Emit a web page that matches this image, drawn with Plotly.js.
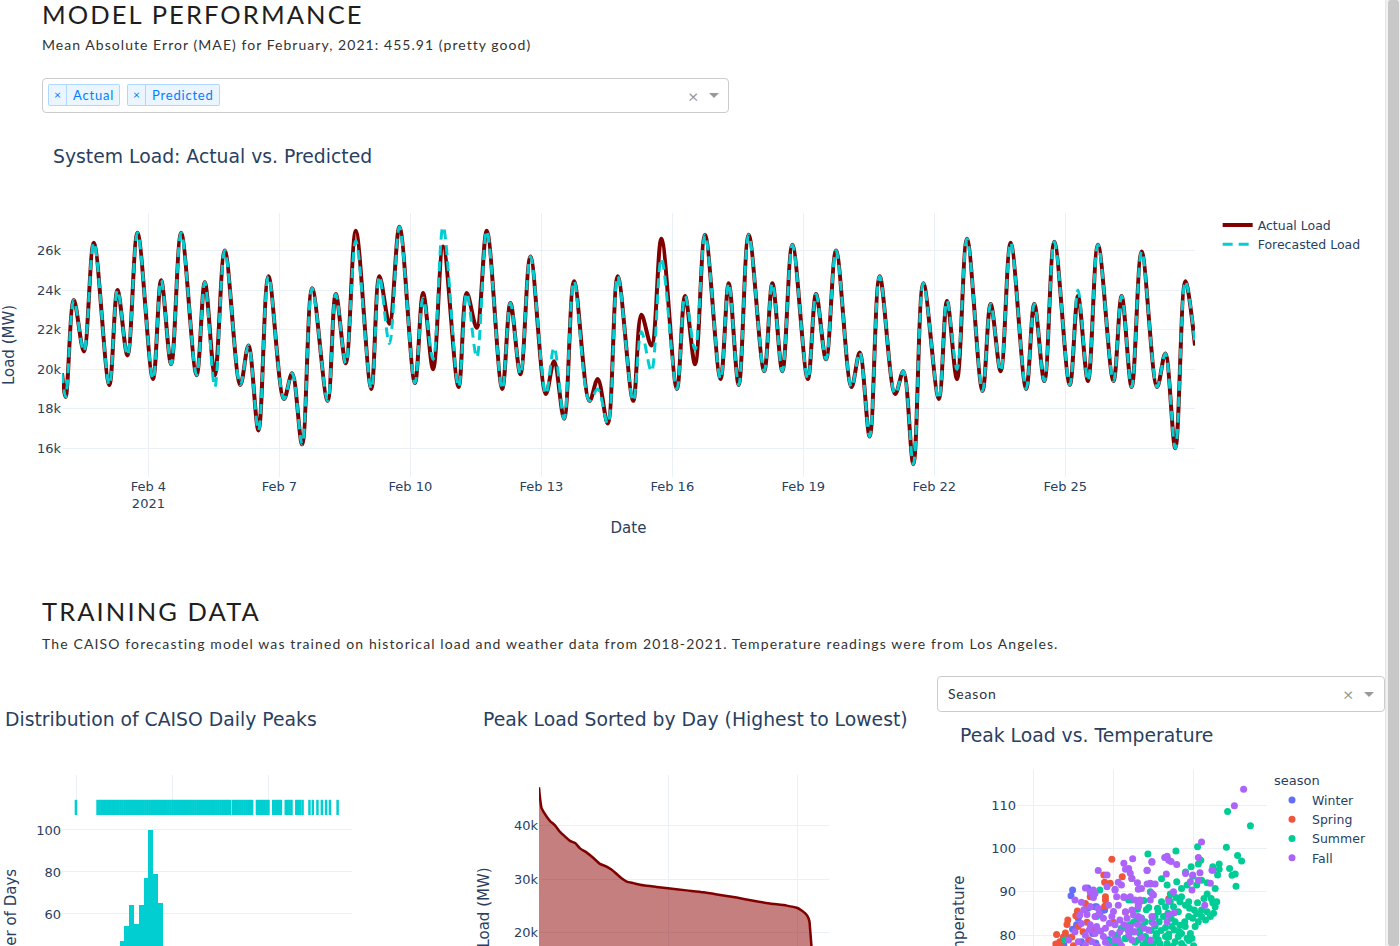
<!DOCTYPE html>
<html><head><meta charset="utf-8">
<script src="https://cdn.plot.ly/plotly-3.0.1.min.js"></script>
<style>
html,body{margin:0;padding:0;width:1400px;height:946px;overflow:hidden;background:#fff;font-family:Lato,"Noto Sans",sans-serif;}
.abs{position:absolute;}
.h1{font-size:25.5px;line-height:26px;letter-spacing:2.1px;color:#1e1e1e;white-space:nowrap;}
.p{font-size:14px;line-height:14px;letter-spacing:1.05px;color:#333;white-space:nowrap;}
.dd{border:1px solid #ccc;border-radius:4px;box-sizing:border-box;background:#fff;}
.tag{position:absolute;top:5px;height:22px;box-sizing:border-box;border:1px solid rgba(0,126,255,0.26);background:rgba(0,126,255,0.08);border-radius:2px;color:#007eff;font-size:13px;line-height:20px;letter-spacing:0.8px;display:flex;}
.tag .x{width:17px;text-align:center;border-right:1px solid rgba(0,126,255,0.26);font-size:12px;letter-spacing:0;}
.tag .l{padding:0 5px 0 6px;}
.clr{position:absolute;color:#999;font-size:18px;line-height:18px;}
.car{position:absolute;width:0;height:0;border-left:5px solid transparent;border-right:5px solid transparent;border-top:5px solid #999;}
</style></head><body>

<div class="abs h1" style="left:42px;top:1px;">MODEL PERFORMANCE</div>
<div class="abs p" style="left:42px;top:38px;">Mean Absolute Error (MAE) for February, 2021: 455.91 (pretty good)</div>

<div class="abs dd" style="left:42px;top:78px;width:687px;height:35px;">
  <div class="tag" style="left:5px;"><span class="x">×</span><span class="l">Actual</span></div>
  <div class="tag" style="left:84px;"><span class="x">×</span><span class="l">Predicted</span></div>
  <div class="clr" style="left:645px;top:8px;">×</div>
  <div class="car" style="left:666px;top:14px;"></div>
</div>

<div class="abs" id="mainChart" style="left:0;top:128px;width:1385px;height:420px;"></div>

<div class="abs h1" style="left:42px;top:598px;">TRAINING DATA</div>
<div class="abs p" style="left:42px;top:637px;letter-spacing:1.12px;">The CAISO forecasting model was trained on historical load and weather data from 2018-2021. Temperature readings were from Los Angeles.</div>

<div class="abs" id="histChart" style="left:0;top:690px;width:470px;height:410px;"></div>
<div class="abs" id="sortChart" style="left:470px;top:690px;width:470px;height:410px;"></div>
<div class="abs" id="scatChart" style="left:930px;top:712px;width:455px;height:420px;"></div>

<div class="abs dd" style="left:937px;top:676px;width:448px;height:36px;">
  <div class="abs" style="left:10px;top:9px;font-size:14px;line-height:16px;letter-spacing:0.8px;color:#333;">Season</div>
  <div class="clr" style="left:405px;top:8px;">×</div>
  <div class="car" style="left:426px;top:15px;"></div>
</div>

<div class="abs" style="left:1385px;top:0;width:15px;height:946px;background:#f1f1f1;border-left:1px solid #e6e6e6;box-sizing:border-box;"></div>
<div class="abs" style="left:1388px;top:0;width:11px;height:946px;background:#c8c8c8;border-radius:3px;"></div>

<script>
// ---------- System load (Feb 2021), daily features: early-morning trough, morning peak, midday dip, evening peak
const loadDays = ['2021-02-02','2021-02-03','2021-02-04','2021-02-05','2021-02-06','2021-02-07','2021-02-08','2021-02-09','2021-02-10','2021-02-11','2021-02-12','2021-02-13','2021-02-14','2021-02-15','2021-02-16','2021-02-17','2021-02-18','2021-02-19','2021-02-20','2021-02-21','2021-02-22','2021-02-23','2021-02-24','2021-02-25','2021-02-26','2021-02-27'];
const featureTimes = ['02:30','07:00','12:30','18:00'];
const seriesStartTime = '2021-02-02 00:30';
const seriesEndTime = '2021-02-27 23:20';

const actualStart = 19800, actualEnd = 21200;
const actualTrough  = [18600,19200,19500,19700,19200,18500,18400,19000,19300,19100,19000,18750,18400,18400,19000,19500,19900,19500,19100,18750,18500,18900,19000,19200,19400,19100];
const actualMorning = [23500,24000,24500,24400,21200,19800,23800,24700,23850,23850,23350,20400,19500,22750,23700,24350,24350,23800,20850,19900,23450,23300,23300,23700,23700,20800];
const actualMidday  = [20900,20700,20250,19700,16900,16200,20300,22300,20000,22100,19750,17500,17250,21200,20250,19200,19900,20500,16600,15200,19500,19900,19400,19400,19100,16000];
const actualEvening = [26400,26900,26900,26000,24700,24100,27000,27200,26200,27000,25700,24450,24700,26600,26800,26800,26300,26000,24700,24350,26600,26400,26450,26300,25950,24450];

const predStart = 19800, predEnd = 21300;
const predTrough  = [18600,19200,19500,19700,19200,18500,18400,19000,19300,19100,19000,18750,18400,18400,19000,19500,19900,19500,19100,18750,18500,18900,19000,19200,19400,19100];
const predMorning = [23500,24000,24500,24400,21200,19800,23800,24700,23600,23850,23350,21100,19000,21900,23700,24350,24350,23800,20850,19900,23450,23300,23300,24000,23700,20800];
const predMidday  = [20900,20700,20250,19100,16900,16200,20300,21300,20500,20600,19750,17500,17250,19900,21000,19200,19900,20500,16600,15200,20000,19900,19400,19400,19100,16000];
const predEvening = [26400,26900,26900,26000,24700,24100,26500,27200,27200,27000,25700,24450,24700,25600,26800,26800,26300,26000,24700,24350,26600,26400,26450,26300,25950,24450];

// ---------- Daily peaks (training data)
const histBinStart = [19500,20000,20500,21000,21500,22000,22500,23000,23500,24000,24500,25000,25500,26000,26500,27000,27500,28000,28500,29000,29500,30000,30500,31000,31500,32000,32500,33000,33500,34000,34500,35000,35500,36000,36500,37000,37500,38000,38500,39000,39500,40000,40500,41000,41500,42000,42500,43000,43500,44000,44500,45000,45500,46000,46500,47000];
const histCounts   = [1,0,0,0,1,3,5,7,11,22,47,54,64,55,64,77,100,79,65,40,28,20,17,15,14,13,13,12,12,12,12,13,12,12,12,12,12,11,11,11,11,7,6,6,5,5,4,4,3,2,2,1,2,1,1,1];
const histBinWidth = 500;

const rugPeaks = [19950,
 22200,22400,22600,22800,23000,23200,23400,23600,23800,24000,24200,24400,24600,24800,25000,25200,25400,25600,25800,26000,
 26200,26400,26600,26800,27000,27200,27400,27600,27800,28000,28200,28400,28600,28800,29000,29200,29400,29600,29800,30000,
 30200,30400,30600,30800,31000,31200,31400,31600,31800,32000,32200,32400,32600,32800,33000,33200,33400,33600,33800,34000,
 34200,34400,34600,34800,35000,35200,35400,35600,35800,36000,36300,36500,36700,36900,37100,37300,37500,37700,37900,38100,
 38300,38800,39000,39200,39400,39600,39800,40000,40500,40700,40900,41100,41300,41800,42000,42200,42400,42900,43100,43300,43550,
 44270,44620,45100,45560,46000,46400,47200];

const sortedRank = [0,4,10,19,30,43,62,81,101,120,140,159,185,211,236,262,282,301,320,340,366,404,456,508,572,637,702,766,831,895,960,999,1018,1031,1041,1048,1050,1052,1060];
const sortedPeak = [47200,45200,43300,42500,41700,40900,40100,38900,38000,37200,36800,35800,35000,34000,32900,32400,31800,31000,30200,29600,29300,28900,28600,28300,27950,27600,27100,26600,26000,25500,25100,24700,24200,23700,23100,22200,21200,20000,15000];

// ---------- Peak load vs temperature, by season  [load MW], [temp F]
const winterLoad = [24900,24700,26800,28900,28300,25600,25400,24900,27400,27700,26800,27100,27900,28800,25400,24200,26000,23800,26200,27800,29400];
const winterTemp = [90.4,89.1,90.9,85.8,84.8,83.9,82.4,81.4,80.4,86.6,86.2,86.6,86.6,85.8,82.1,79.5,78.5,77.8,77.3,78.2,79.0];
const springLoad = [29800,31100,28900,29600,32300,29000,29000,27200,27100,26500,25500,25300,24300,25600,26700,26200,27600,30000,31500,23750,23300,24200,28900,36900,28800,22800,24000,26900,25000,23500,24800,22900];
const springTemp = [97.5,93.5,92.2,92.0,93.1,88.9,88.1,89.6,88.9,87.3,85.6,84.5,83.5,82.0,83.0,80.8,81.2,83.0,85.3,79.6,78.5,82.5,86.7,88.4,93.9,78.0,80.5,79.0,77.6,77.2,79.6,80.2];
const summerLoad = [47100,44250,44100,40500,37800,34300,45500,46000,44500,44800,45200,45300,43200,43200,43000,42400,40900,40600,39700,39000,39900,41000,41700,42700,40400,39200,37900,36700,36000,38500,37100,37800,38300,39000,39500,40100,40500,41300,41700,42200,42400,42700,41700,41000,40600,39900,39400,38900,38300,37700,37200,36800,36250,35700,35200,34700,35300,35950,36500,36900,37600,38500,39200,34000,33500,34400,38100,37500,35200,36000,35800,33100,28300,27900,23960,32300,31000,31800,32200,31500,32700,30500,29500,33500,33000,32500,33800,34600,33200,34000,30200,
 32900,33300,33960,34800,35400,36500,37300,38100,38960,39600,40200,41000,41500,42100,42500,42900,37700,38500,36700,39800,35000,33700,40400,39400,38500,36500,35600,37100,31000,32100,32500,31500,32700,31900,33100,30200,29400,30800,
 34500,36000,37400,38800,40000,35600,36900,38200,39400,34100,35500,37000];
const summerTemp = [105.2,108.5,100.3,100.4,99.4,98.7,98.4,97.1,95.4,93.8,94.1,91.3,96.4,95.2,93.9,95.8,97.3,96.4,95.8,94.6,93.6,92.7,92.1,90.8,91.6,91.6,92.3,91.6,93.0,90.8,89.5,88.7,87.7,86.9,86.2,85.8,87.5,88.5,89.5,88.5,87.5,86.6,85.4,84.3,83.1,83.9,84.3,83.1,82.3,83.1,83.9,85.1,84.3,83.1,82.1,81.1,79.7,81.1,81.8,80.3,81.2,80.4,79.3,79.7,82.0,86.4,85.4,86.6,84.3,87.7,78.1,78.9,90.4,84.3,78.9,88.1,81.5,82.2,80.8,79.2,78.4,80.0,78.5,84.0,86.0,83.0,88.0,90.0,81.0,78.2,77.8,
 83.5,80.4,83.1,83.1,80.4,79.7,82.0,79.7,82.0,80.4,82.0,85.8,83.5,84.3,85.1,87.7,78.5,78.1,78.1,79.3,78.1,77.7,85.0,87.7,88.9,86.6,85.4,87.7,81.6,82.4,80.8,79.3,78.5,88.1,87.0,80.0,78.5,78.1,
 77.4,77.2,77.5,77.3,77.6,79.0,79.6,80.9,78.8,85.9,86.2,84.8];
const fallLoad = [46250,45100,41000,40600,36400,36700,36900,37200,37900,34800,34200,36600,39000,39900,40800,42400,39600,40600,42100,39800,34200,34600,35200,33500,33100,37500,35000,34600,33300,36900,41400,34800,36900,37600,33100,33500,35000,36700,34400,33800,34600,
 32400,28100,29200,31900,32100,32300,30600,31000,29200,30200,26500,27100,27700,30400,31300,32100,32700,25200,26000,27100,28100,29400,30600,31500,32300,33100,25800,26700,27700,28750,29800,30800,31700,32500,26000,27100,27900,29000,30200,31300,32100,25200,26500,27700,28750,29800,30800,31900,32700,24400,25600,27300,29000,30200,32300,
 34800,34200,33000,34600,34800,33300,31300,30200,27500,27500,31300,31500,42300,
 28000,29500,31000,26500,33500,33000,28400,30600,27000,31800,29500,28200,30000,26300];
const fallTemp = [113.6,109.8,101.5,97.9,97.9,98.2,97.3,97.0,96.3,97.0,95.0,94.1,94.2,93.9,94.4,95.0,92.3,92.7,92.0,90.4,91.8,92.0,91.8,90.8,90.6,90.0,89.3,88.1,87.7,87.9,86.9,84.3,84.7,85.2,84.3,83.7,82.7,83.1,81.2,81.6,78.9,
 97.6,94.9,93.9,95.4,94.3,93.1,92.2,91.6,91.2,90.4,90.9,90.0,89.6,88.9,88.9,88.9,88.1,88.1,87.6,86.6,86.2,86.9,86.9,85.4,85.8,86.6,84.7,84.8,84.3,83.9,84.3,83.5,83.9,84.7,82.7,82.4,82.0,81.6,82.4,82.4,82.0,80.8,80.0,80.4,79.7,80.4,80.8,80.0,80.8,78.9,78.5,78.5,78.4,78.9,78.9,
 96.8,94.9,92.1,91.8,89.6,88.1,88.7,90.6,90.4,88.7,96.6,95.2,95.0,
 77.5,77.3,77.6,77.8,79.5,82.5,81.0,79.0,81.3,81.2,82.8,85.0,85.5,85.9];

// ---------- build series
function buildSeries(start, end, tr, mo, mi, ev) {
  const x = [seriesStartTime], y = [start];
  const parts = [tr, mo, mi, ev];
  loadDays.forEach((d, i) => {
    featureTimes.forEach((t, k) => { x.push(d + ' ' + t); y.push(parts[k][i]); });
  });
  x.push(seriesEndTime); y.push(end);
  return {x, y};
}
const act = buildSeries(actualStart, actualEnd, actualTrough, actualMorning, actualMidday, actualEvening);
const prd = buildSeries(predStart, predEnd, predTrough, predMorning, predMidday, predEvening);

const FONT = 'DejaVu Sans, Verdana, sans-serif';
const TXT = '#2a3f5f';
const GRID = '#EBF0F8';
const TSIZE = 18.8;
const cfg = {displayModeBar:false, responsive:false};

Plotly.newPlot('mainChart', [
  {x: act.x, y: act.y, type:'scatter', mode:'lines', name:'Actual Load',
   line:{color:'#800000', width:4, shape:'spline', smoothing:1}},
  {x: prd.x, y: prd.y, type:'scatter', mode:'lines', name:'Forecasted Load',
   line:{color:'#00CED1', width:3, dash:'10px,6px', shape:'spline', smoothing:1}}
], {
  width:1385, height:420,
  margin:{l:62, r:190, t:85, b:71},
  paper_bgcolor:'#fff', plot_bgcolor:'#fff',
  font:{family:FONT, size:13, color:TXT},
  title:{text:'System Load: Actual vs. Predicted', font:{size:TSIZE, family:FONT, color:TXT},
         x:53/1385, xanchor:'left', xref:'container', y:1-28/420, yanchor:'middle', yref:'container'},
  xaxis:{type:'date', range:[seriesStartTime, seriesEndTime], tick0:'2021-02-04', dtick:3*86400000,
         showgrid:true, gridcolor:GRID, zeroline:false, showline:false, ticks:'',
         title:{text:'Date', font:{size:15}, standoff:12}},
  yaxis:{range:[14550, 27900], dtick:2000, tick0:16000, showgrid:true, gridcolor:GRID, zeroline:false,
         ticks:'', title:{text:'Load (MW)', font:{size:15}, standoff:18}},
  legend:{x:1.02, y:1.01, xanchor:'left', yanchor:'top', font:{size:12.5}},
  showlegend:true
}, cfg);

// x-axis tick labels of the lower charts fall below the visible page (as in the reference), so they are not drawn
Plotly.newPlot('histChart', [
  {type:'bar', x:histBinStart, y:histCounts, width:histBinWidth, offset:0, marker:{color:'#00CED1', line:{width:0}},
   xaxis:'x', yaxis:'y', showlegend:false},
  {type:'scatter', mode:'markers', x:rugPeaks, y:rugPeaks.map(() => 0), xaxis:'x2', yaxis:'y2', showlegend:false,
   marker:{symbol:'line-ns-open', size:11, color:'#00CED1', line:{width:2.5, color:'#00CED1'}}}
], {
  width:470, height:410,
  margin:{l:62, r:118, t:85, b:60},
  paper_bgcolor:'#fff', plot_bgcolor:'#fff',
  font:{family:FONT, size:13, color:TXT},
  bargap:0,
  title:{text:'Distribution of CAISO Daily Peaks', font:{size:TSIZE, family:FONT, color:TXT},
         x:5/470, xanchor:'left', xref:'container', y:1-29/410, yanchor:'middle', yref:'container'},
  xaxis:{range:[18500, 48700], dtick:10000, showgrid:false, zeroline:false, ticks:'', showticklabels:false, domain:[0,1], anchor:'y'},
  yaxis:{range:[0, 105], dtick:20, tick0:60, showgrid:true, gridcolor:GRID, zeroline:false, ticks:'', domain:[0, 0.8321],
         tickvals:[60,80,100],
         title:{text:'Number of Days', font:{size:15}, standoff:15}},
  xaxis2:{range:[18500, 48700], dtick:10000, showgrid:true, gridcolor:GRID, zeroline:false, showticklabels:false, ticks:'', anchor:'y2', matches:'x'},
  yaxis2:{range:[-0.1875, 0.8125], showgrid:false, zeroline:false, showticklabels:false, ticks:'', domain:[0.849, 1]}
}, cfg);

Plotly.newPlot('sortChart', [
  {type:'scatter', mode:'lines', x:sortedRank, y:sortedPeak, fill:'tozeroy',
   line:{color:'#800000', width:2.5, shape:'spline', smoothing:0.6}, fillcolor:'rgba(139,0,0,0.5)', showlegend:false}
], {
  width:470, height:410,
  margin:{l:69, r:111, t:85, b:60},
  paper_bgcolor:'#fff', plot_bgcolor:'#fff',
  font:{family:FONT, size:13, color:TXT},
  title:{text:'Peak Load Sorted by Day (Highest to Lowest)', font:{size:TSIZE, family:FONT, color:TXT},
         x:13/470, xanchor:'left', xref:'container', y:1-29/410, yanchor:'middle', yref:'container'},
  xaxis:{range:[0, 1124], dtick:500, showgrid:true, gridcolor:GRID, zeroline:false, ticks:'', showticklabels:false},
  yaxis:{range:[0, 49500], tickvals:[20000,30000,40000], ticktext:['20k','30k','40k'], showgrid:true, gridcolor:GRID, zeroline:false, ticks:'',
         title:{text:'Load (MW)', font:{size:15}, standoff:20}}
}, cfg);

const seasonColors = {Winter:'#636EFA', Spring:'#EF553B', Summer:'#00CC96', Fall:'#AB63FA'};
Plotly.newPlot('scatChart', [
  {type:'scatter', mode:'markers', name:'Winter', x:winterLoad, y:winterTemp, marker:{color:seasonColors.Winter, size:7}},
  {type:'scatter', mode:'markers', name:'Spring', x:springLoad, y:springTemp, marker:{color:seasonColors.Spring, size:7}},
  {type:'scatter', mode:'markers', name:'Summer', x:summerLoad, y:summerTemp, marker:{color:seasonColors.Summer, size:7}},
  {type:'scatter', mode:'markers', name:'Fall', x:fallLoad, y:fallTemp, marker:{color:seasonColors.Fall, size:7}}
], {
  width:455, height:420,
  margin:{l:87, r:118, t:58, b:56},
  paper_bgcolor:'#fff', plot_bgcolor:'#fff',
  font:{family:FONT, size:13, color:TXT},
  title:{text:'Peak Load vs. Temperature', font:{size:TSIZE, family:FONT, color:TXT},
         x:30/455, xanchor:'left', xref:'container', y:1-23/420, yanchor:'middle', yref:'container'},
  xaxis:{range:[17960, 49170], dtick:10000, showgrid:true, gridcolor:GRID, zeroline:false, ticks:'', showticklabels:false},
  yaxis:{range:[47.6, 118.06], tickvals:[80,90,100,110], showgrid:true, gridcolor:GRID, zeroline:false, ticks:'',
         title:{text:'Temperature', font:{size:15}, standoff:22}},
  legend:{x:1.02, y:1.005, xanchor:'left', yanchor:'top', title:{text:'season', font:{size:13}}, font:{size:12.5}}
}, cfg);
</script>
</body></html>
